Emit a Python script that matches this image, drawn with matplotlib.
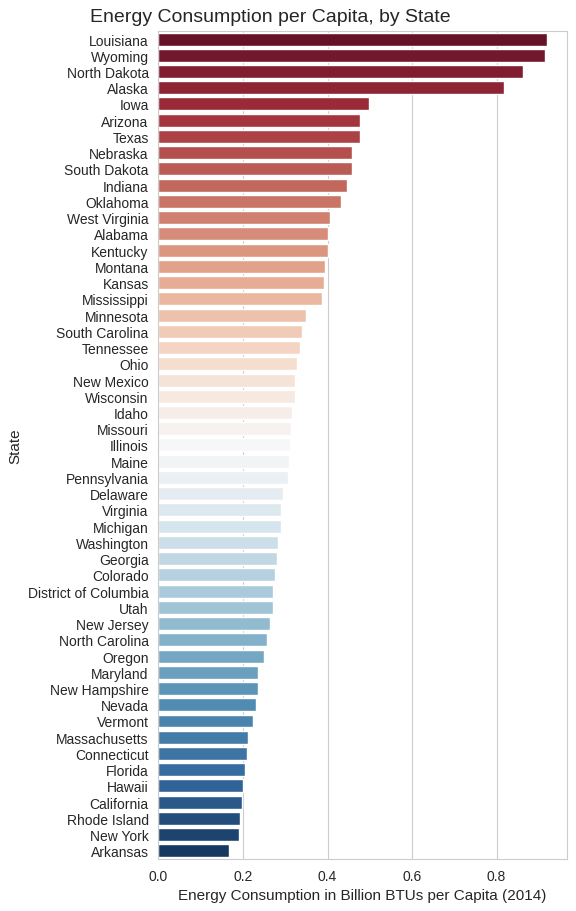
import matplotlib
matplotlib.use('Agg')
import matplotlib.pyplot as plt
import seaborn as sns
import pandas as pd

# energy use per capita by state, 2014 (billion BTU)
states = ['Louisiana', 'Wyoming', 'North Dakota', 'Alaska', 'Iowa', 'Arizona', 'Texas',
          'Nebraska', 'South Dakota', 'Indiana', 'Oklahoma', 'West Virginia', 'Alabama',
          'Kentucky', 'Montana', 'Kansas', 'Mississippi', 'Minnesota', 'South Carolina',
          'Tennessee', 'Ohio', 'New Mexico', 'Wisconsin', 'Idaho', 'Missouri', 'Illinois',
          'Maine', 'Pennsylvania', 'Delaware', 'Virginia', 'Michigan', 'Washington',
          'Georgia', 'Colorado', 'District of Columbia', 'Utah', 'New Jersey',
          'North Carolina', 'Oregon', 'Maryland', 'New Hampshire', 'Nevada', 'Vermont',
          'Massachusetts', 'Connecticut', 'Florida', 'Hawaii', 'California',
          'Rhode Island', 'New York', 'Arkansas']
energy = [0.920, 0.915, 0.862, 0.818, 0.497, 0.478, 0.478, 0.459, 0.459, 0.445, 0.433,
          0.407, 0.402, 0.401, 0.393, 0.391, 0.386, 0.350, 0.339, 0.334, 0.329, 0.324,
          0.324, 0.317, 0.314, 0.312, 0.308, 0.306, 0.294, 0.291, 0.291, 0.284, 0.281,
          0.275, 0.272, 0.270, 0.263, 0.256, 0.249, 0.235, 0.235, 0.232, 0.223, 0.213,
          0.209, 0.206, 0.199, 0.197, 0.194, 0.190, 0.166]

df = pd.DataFrame({'State': states, 'Energy': energy})

sns.set_style('whitegrid')
plt.rcParams['font.family'] = ['Liberation Sans', 'DejaVu Sans']
fig, ax = plt.subplots(figsize=(5.76, 9.12), dpi=100)
fig.subplots_adjust(left=0.275, right=0.984, top=0.965, bottom=0.057)

sns.barplot(data=df, x='Energy', y='State', hue='State', palette='RdBu',
            legend=False, ax=ax)
ax.set_xlabel('Energy Consumption in Billion BTUs per Capita (2014)', fontsize=11)
ax.set_ylabel('State', fontsize=11)
ax.tick_params(labelsize=10)
fig.text(90 / 576, 1 - 17 / 912, 'Energy Consumption per Capita, by State',
         fontsize=14, va='center', ha='left')

fig.savefig('out.png', dpi=100)
